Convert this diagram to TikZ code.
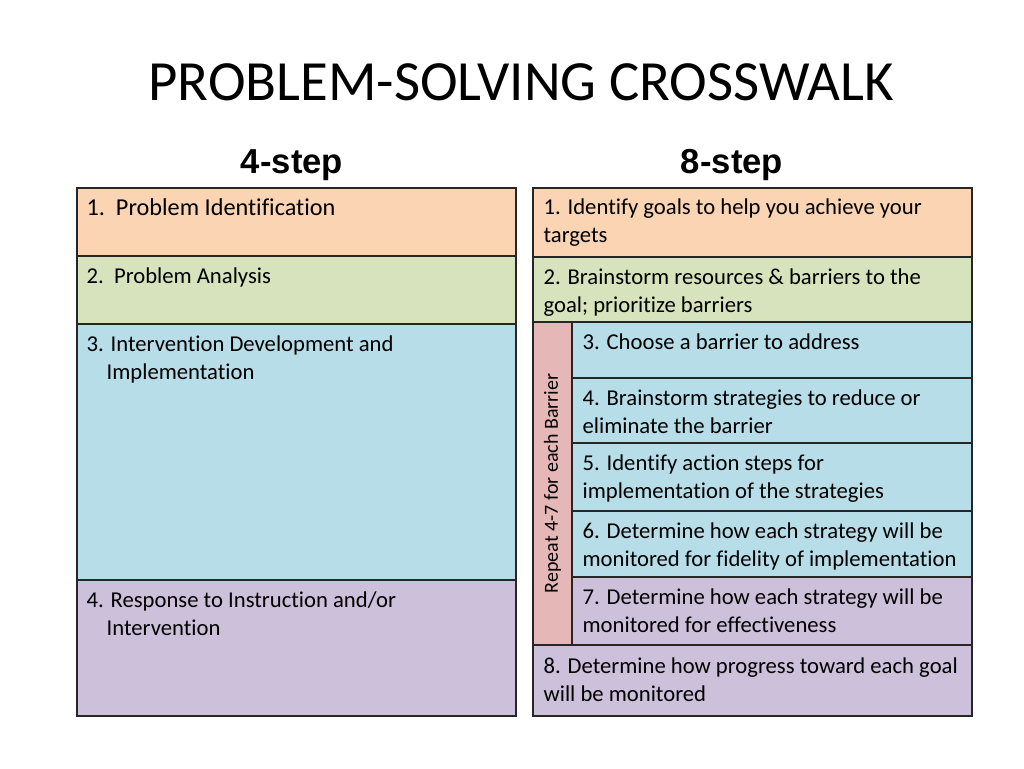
\documentclass[tikz,border=0pt]{standalone}
\usepackage{fontspec}
\setmainfont[Ligatures=NoCommon]{Carlito}
\newfontfamily\headfont{Liberation Sans}
\usetikzlibrary{positioning}
\usetikzlibrary{fit}

\definecolor{orng}{HTML}{FBD4B4}
\definecolor{grn}{HTML}{D6E3BC}
\definecolor{blu}{HTML}{B6DDE8}
\definecolor{purp}{HTML}{CCC0DA}
\definecolor{pnk}{HTML}{E5B8B7}

\begin{document}
\begin{tikzpicture}[x=0.75pt, y=-0.75pt,
	cell/.style={rectangle,draw=black!85,line width=1pt,inner sep=0pt},
	txt/.style={anchor=north west,align=left,inner sep=0pt,font=\fontsize{17}{21}\selectfont},
	head/.style={font=\headfont\bfseries\fontsize{26}{30}\selectfont}]
	\useasboundingbox (0,0) rectangle (1024,768);
	\node[font=\fontsize{42.6}{48}\selectfont] (title) at (521,82) {PROBLEM-SOLVING CROSSWALK};
	\node[head] (four) at (292,165) {4-step};
	\node[head] (eight) at (732,165) {8-step};
	% 4-step column
	\node[cell,fill=orng,fit={(77,188) (516,256)}] (l1) {};
	\node[cell,fill=grn,fit={(77,256) (516,324)}] (l2) {};
	\node[cell,fill=blu,fit={(77,324) (516,580)}] (l3) {};
	\node[cell,fill=purp,fit={(77,580) (516,716)}] (l4) {};
	\node[txt,font=\fontsize{18.2}{22}\selectfont] (t1) at ([shift={(10,11)}]l1.north west) {1.\ \ Problem Identification};
	\node[txt] (t2) at ([shift={(10,12)}]l2.north west) {2.\ \ Problem Analysis};
	\node[txt] (t3) at ([shift={(10,12)}]l3.north west) {3. Intervention Development and\\\hspace{15pt}Implementation};
	\node[txt] (t4) at ([shift={(10,12)}]l4.north west) {4. Response to Instruction and/or\\\hspace{15pt}Intervention};
	% 8-step column
	\node[cell,fill=orng,fit={(533,188) (972,257)}] (r1) {};
	\node[cell,fill=grn,fit={(533,257) (972,322)}] (r2) {};
	\node[cell,fill=pnk,fit={(533,322) (572,645)}] (rep) {};
	\node[cell,fill=blu,fit={(572,322) (972,378)}] (r3) {};
	\node[cell,fill=blu,fit={(572,378) (972,443)}] (r4) {};
	\node[cell,fill=blu,fit={(572,443) (972,511)}] (r5) {};
	\node[cell,fill=blu,fit={(572,511) (972,577)}] (r6) {};
	\node[cell,fill=purp,fit={(572,577) (972,645)}] (r7) {};
	\node[cell,fill=purp,fit={(533,645) (972,716)}] (r8) {};
	\node[txt] (s1) at ([shift={(11,11)}]r1.north west) {1. Identify goals to help you achieve your\\targets};
	\node[txt] (s2) at ([shift={(11,12)}]r2.north west) {2. Brainstorm resources \& barriers to the\\goal; prioritize barriers};
	\node[txt] (s3) at ([shift={(11,12)}]r3.north west) {3. Choose a barrier to address};
	\node[txt] (s4) at ([shift={(11,12)}]r4.north west) {4. Brainstorm strategies to reduce or\\eliminate the barrier};
	\node[txt] (s5) at ([shift={(11,12)}]r5.north west) {5. Identify action steps for\\implementation of the strategies};
	\node[txt] (s6) at ([shift={(11,12)}]r6.north west) {6. Determine how each strategy will be\\monitored for fidelity of implementation};
	\node[txt] (s7) at ([shift={(11,12)}]r7.north west) {7. Determine how each strategy will be\\monitored for effectiveness};
	\node[txt] (s8) at ([shift={(11,13)}]r8.north west) {8. Determine how progress toward each goal\\will be monitored};
	\node[rotate=90,font=\fontsize{15}{18}\selectfont] (reptxt) at (rep.center) {Repeat 4-7 for each Barrier};
\end{tikzpicture}
\end{document}
